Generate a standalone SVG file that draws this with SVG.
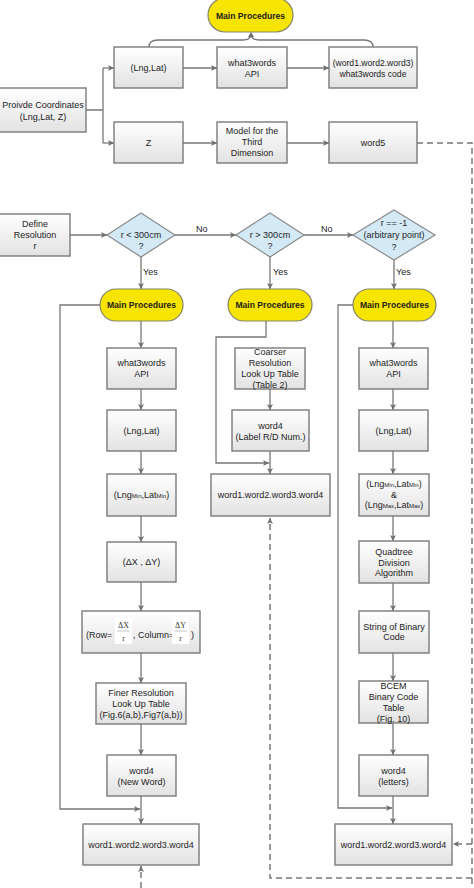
<svg xmlns="http://www.w3.org/2000/svg" width="474" height="888" viewBox="0 0 474 888">
<defs>
<linearGradient id="gbox" x1="0" y1="0" x2="0" y2="1">
<stop offset="0" stop-color="#ffffff"/>
<stop offset="1" stop-color="#e2e2e2"/>
</linearGradient>
<marker id="arr" markerWidth="8" markerHeight="8" refX="6" refY="3" orient="auto" markerUnits="userSpaceOnUse">
<path d="M0,0 L6,3 L0,6 L1.5,3 Z" fill="#6f6f6f"/>
</marker>
<style>
.box{fill:url(#gbox);stroke:#7a7a7a;stroke-width:1.4}
.dia{fill:#d3e9f5;stroke:#8a8a8a;stroke-width:1.2}
.pill{fill:#f7e400;stroke:#85856a;stroke-width:1.2}
.t{font-family:"Liberation Sans",Arial,sans-serif;font-size:9px;fill:#1c1c1c;text-anchor:middle}
.tl{font-family:"Liberation Sans",Arial,sans-serif;font-size:9px;fill:#1c1c1c}
.tb{font-family:"Liberation Sans",Arial,sans-serif;font-size:8.6px;font-weight:bold;fill:#1c1c1c;text-anchor:middle}
.sub{font-size:6px}
.fr{font-family:"Liberation Serif","Times New Roman",serif;font-size:8px;fill:#333;text-anchor:middle}
.c{fill:none;stroke:#777;stroke-width:1.3}
.ca{fill:none;stroke:#777;stroke-width:1.3;marker-end:url(#arr)}
.d{fill:none;stroke:#777;stroke-width:1.5;stroke-dasharray:6 4}
.da{fill:none;stroke:#777;stroke-width:1.5;stroke-dasharray:6 4;marker-end:url(#arr)}
</style>
</defs>

<g id="connectors">
<path class="c" d="M149,47 Q149,40 158,40 L243,40 Q251,40 251,34 Q251,40 259,40 L364,40 Q373,40 373,47"/>
<path d="M248,37 L251,32 L254,37 Z" fill="#6f6f6f"/>
<path class="c" d="M86,110 H103 M103,68 V143"/>
<path class="ca" d="M103,68 H114"/>
<path class="ca" d="M103,143 H114"/>
<path class="ca" d="M183,68 H217"/>
<path class="ca" d="M287,68 H329"/>
<path class="ca" d="M183,143 H217"/>
<path class="ca" d="M287,143 H329"/>
<path class="d" d="M397,143 H472 V888"/>

<path class="ca" d="M70,235 H107"/>
<path class="ca" d="M175,235 H236"/>
<path class="ca" d="M304,235 H353"/>
<path class="ca" d="M141,257 V289"/>
<path class="ca" d="M270,257 V289"/>
<path class="ca" d="M394,260 V289"/>

<path class="ca" d="M141,321 V348"/>
<path class="ca" d="M141,389 V410"/>
<path class="ca" d="M141,451 V474"/>
<path class="ca" d="M141,516 V542"/>
<path class="ca" d="M141,582 V611"/>
<path class="ca" d="M141,653 V683"/>
<path class="ca" d="M141,724 V755"/>
<path class="ca" d="M141,796 V824"/>
<path class="ca" d="M100,305 H60 V809 H140"/>
<path class="da" d="M141,888 V866"/>

<path class="ca" d="M266,321 V337 H216 V463 H269"/>
<path class="ca" d="M270,389 V410"/>
<path class="ca" d="M270,451 V474"/>
<path class="da" d="M472,878 H270 V518"/>

<path class="ca" d="M393,321 V348"/>
<path class="ca" d="M393,389 V410"/>
<path class="ca" d="M393,451 V474"/>
<path class="ca" d="M393,516 V541"/>
<path class="ca" d="M393,583 V611"/>
<path class="ca" d="M393,653 V681"/>
<path class="ca" d="M393,723 V755"/>
<path class="ca" d="M393,796 V824"/>
<path class="ca" d="M353,305 H338 V808 H392"/>
<path class="da" d="M472,844 H453"/>
</g>

<g id="labels">
<text class="tl" x="196" y="232">No</text>
<text class="tl" x="321" y="232">No</text>
<text class="tl" x="143" y="275">Yes</text>
<text class="tl" x="273" y="275">Yes</text>
<text class="tl" x="396" y="275">Yes</text>
</g>

<g id="main-top"><rect class="pill" x="208" y="-2" width="85" height="34" rx="17"/><text class="tb" x="250.5" y="19">Main Procedures</text></g>
<g id="lnglat-top"><rect class="box" x="114" y="47" width="69" height="41"/><text class="t" x="148.5" y="71">(Lng,Lat)</text></g>
<g id="w3w-top"><rect class="box" x="217" y="47" width="70" height="41"/><text class="t" x="252" y="66">what3words</text><text class="t" x="252" y="77">API</text></g>
<g id="code-top"><rect class="box" x="329" y="47" width="88" height="41"/><text class="t" x="373" y="66" style="font-size:8.6px">(word1.word2.word3)</text><text class="t" x="373" y="77" style="font-size:8.6px">what3words code</text></g>
<g id="provide"><rect class="box" x="-1" y="88" width="87" height="44"/><text class="t" x="43" y="108">Proivde Coordinates</text><text class="t" x="43" y="120">(Lng,Lat, Z)</text></g>
<g id="z"><rect class="box" x="114" y="122" width="69" height="41"/><text class="t" x="148.5" y="146">Z</text></g>
<g id="model"><rect class="box" x="217" y="122" width="70" height="41"/><text class="t" x="252" y="134">Model for the</text><text class="t" x="252" y="145">Third</text><text class="t" x="252" y="156">Dimension</text></g>
<g id="word5"><rect class="box" x="329" y="122" width="88" height="41"/><text class="t" x="373" y="146">word5</text></g>

<g id="define"><rect class="box" x="-1" y="214" width="71" height="42"/><text class="t" x="35" y="227">Define</text><text class="t" x="35" y="238">Resolution</text><text class="t" x="35" y="249">r</text></g>
<g id="dia1"><path class="dia" d="M141,213 L175,235 L141,257 L107,235 Z"/><text class="t" x="141" y="238">r &lt; 300cm</text><text class="t" x="141" y="249">?</text></g>
<g id="dia2"><path class="dia" d="M270,213 L304,235 L270,257 L236,235 Z"/><text class="t" x="270" y="238">r &gt; 300cm</text><text class="t" x="270" y="249">?</text></g>
<g id="dia3"><path class="dia" d="M394,210 L435,235 L394,260 L353,235 Z"/><text class="t" x="394" y="226">r == -1</text><text class="t" x="394" y="238">(arbitrary point)</text><text class="t" x="394" y="250">?</text></g>

<g id="main1"><rect class="pill" x="100" y="289" width="83" height="32" rx="16"/><text class="tb" x="141.5" y="308">Main Procedures</text></g>
<g id="main2"><rect class="pill" x="228" y="289" width="84" height="32" rx="16"/><text class="tb" x="270" y="308">Main Procedures</text></g>
<g id="main3"><rect class="pill" x="353" y="289" width="83" height="32" rx="16"/><text class="tb" x="394.5" y="308">Main Procedures</text></g>

<g id="c1-w3w"><rect class="box" x="107" y="348" width="69" height="41"/><text class="t" x="141.5" y="366">what3words</text><text class="t" x="141.5" y="377">API</text></g>
<g id="c1-lnglat"><rect class="box" x="107" y="410" width="69" height="41"/><text class="t" x="141.5" y="434">(Lng,Lat)</text></g>
<g id="c1-min"><rect class="box" x="107" y="474" width="69" height="42"/><text class="t" x="141.5" y="498">(Lng<tspan class="sub">Min</tspan>,Lat<tspan class="sub">Min</tspan>)</text></g>
<g id="c1-dxdy"><rect class="box" x="107" y="542" width="69" height="40"/><text class="t" x="141.5" y="565">(ΔX , ΔY)</text></g>
<g id="c1-rowcol"><rect class="box" x="82" y="611" width="118" height="42"/>
<text class="tl" x="86" y="638">(Row=</text>
<rect x="115" y="618" width="17" height="26" fill="#ffffff"/>
<text class="fr" x="123.5" y="628">ΔX</text><line x1="117" y1="631" x2="130" y2="631" stroke="#888" stroke-width="0.5"/><text class="fr" x="123.5" y="641">r</text>
<text class="tl" x="133" y="638">, Column=</text>
<rect x="172" y="618" width="17" height="26" fill="#ffffff"/>
<text class="fr" x="180.5" y="628">ΔY</text><line x1="174" y1="631" x2="187" y2="631" stroke="#888" stroke-width="0.5"/><text class="fr" x="180.5" y="641">r</text>
<text class="tl" x="191" y="638">)</text></g>
<g id="c1-finer"><rect class="box" x="96" y="683" width="90" height="41"/><text class="t" x="141" y="696">Finer Resolution</text><text class="t" x="141" y="707">Look Up Table</text><text class="t" x="141" y="718">(Fig.6(a,b),Fig7(a,b))</text></g>
<g id="c1-word4"><rect class="box" x="107" y="755" width="69" height="41"/><text class="t" x="141.5" y="774">word4</text><text class="t" x="141.5" y="785">(New Word)</text></g>
<g id="c1-final"><rect class="box" x="83" y="824" width="116" height="41"/><text class="t" x="141" y="848">word1.word2.word3.word4</text></g>

<g id="c2-coarser"><rect class="box" x="235" y="348" width="70" height="41"/><text class="t" x="270" y="355">Coarser</text><text class="t" x="270" y="366">Resolution</text><text class="t" x="270" y="377">Look Up Table</text><text class="t" x="270" y="388">(Table 2)</text></g>
<g id="c2-word4"><rect class="box" x="232" y="410" width="77" height="41"/><text class="t" x="270.5" y="429">word4</text><text class="t" x="270.5" y="440">(Label R/D Num.)</text></g>
<g id="c2-final"><rect class="box" x="211" y="474" width="119" height="42"/><text class="t" x="270.5" y="498">word1.word2.word3.word4</text></g>

<g id="c3-w3w"><rect class="box" x="359" y="348" width="69" height="41"/><text class="t" x="393.5" y="366">what3words</text><text class="t" x="393.5" y="377">API</text></g>
<g id="c3-lnglat"><rect class="box" x="359" y="410" width="69" height="41"/><text class="t" x="393.5" y="434">(Lng,Lat)</text></g>
<g id="c3-minmax"><rect class="box" x="359" y="474" width="70" height="42"/><text class="t" x="394" y="487">(Lng<tspan class="sub">Min</tspan>,Lat<tspan class="sub">Min</tspan>)</text><text class="t" x="394" y="498">&amp;</text><text class="t" x="394" y="508">(Lng<tspan class="sub">Max</tspan>,Lat<tspan class="sub">Max</tspan>)</text></g>
<g id="c3-quad"><rect class="box" x="359" y="541" width="70" height="42"/><text class="t" x="394" y="555">Quadtree</text><text class="t" x="394" y="566">Division</text><text class="t" x="394" y="576">Algorithm</text></g>
<g id="c3-string"><rect class="box" x="359" y="611" width="70" height="42"/><text class="t" x="394" y="630">String of Binary</text><text class="t" x="394" y="640">Code</text></g>
<g id="c3-bcem"><rect class="box" x="359" y="681" width="69" height="42"/><text class="t" x="393.5" y="689">BCEM</text><text class="t" x="393.5" y="700">Binary Code</text><text class="t" x="393.5" y="711">Table</text><text class="t" x="393.5" y="722">(Fig. 10)</text></g>
<g id="c3-word4"><rect class="box" x="359" y="755" width="69" height="41"/><text class="t" x="393.5" y="774">word4</text><text class="t" x="393.5" y="785">(letters)</text></g>
<g id="c3-final"><rect class="box" x="335" y="824" width="117" height="41"/><text class="t" x="393.5" y="848">word1.word2.word3.word4</text></g>
</svg>
